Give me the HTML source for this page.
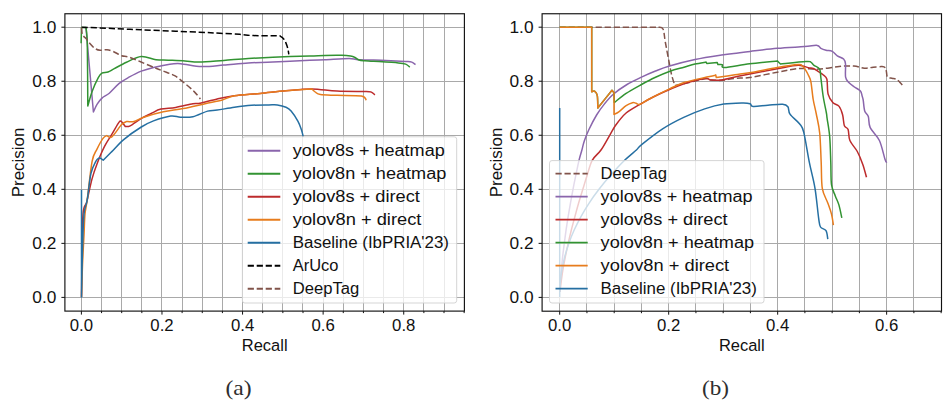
<!DOCTYPE html>
<html><head><meta charset="utf-8"><style>html,body{margin:0;padding:0;background:#fff;overflow:hidden}svg{display:block}</style></head><body>
<svg width="950" height="407" viewBox="0 0 950 407">
<rect width="950" height="407" fill="#ffffff"/>
<g stroke="#a9a9a9" stroke-width="1.0" fill="none"><line x1="81.50" y1="13.75" x2="81.50" y2="311.1" /><line x1="101.50" y1="13.75" x2="101.50" y2="311.1" /><line x1="121.50" y1="13.75" x2="121.50" y2="311.1" /><line x1="141.50" y1="13.75" x2="141.50" y2="311.1" /><line x1="161.50" y1="13.75" x2="161.50" y2="311.1" /><line x1="182.50" y1="13.75" x2="182.50" y2="311.1" /><line x1="202.50" y1="13.75" x2="202.50" y2="311.1" /><line x1="222.50" y1="13.75" x2="222.50" y2="311.1" /><line x1="242.50" y1="13.75" x2="242.50" y2="311.1" /><line x1="262.50" y1="13.75" x2="262.50" y2="311.1" /><line x1="282.50" y1="13.75" x2="282.50" y2="311.1" /><line x1="302.50" y1="13.75" x2="302.50" y2="311.1" /><line x1="323.50" y1="13.75" x2="323.50" y2="311.1" /><line x1="343.50" y1="13.75" x2="343.50" y2="311.1" /><line x1="363.50" y1="13.75" x2="363.50" y2="311.1" /><line x1="383.50" y1="13.75" x2="383.50" y2="311.1" /><line x1="403.50" y1="13.75" x2="403.50" y2="311.1" /><line x1="423.50" y1="13.75" x2="423.50" y2="311.1" /><line x1="444.50" y1="13.75" x2="444.50" y2="311.1" /><line x1="64.9" y1="297.50" x2="464.4" y2="297.50" /><line x1="64.9" y1="243.50" x2="464.4" y2="243.50" /><line x1="64.9" y1="189.50" x2="464.4" y2="189.50" /><line x1="64.9" y1="135.50" x2="464.4" y2="135.50" /><line x1="64.9" y1="81.50" x2="464.4" y2="81.50" /><line x1="64.9" y1="27.50" x2="464.4" y2="27.50" /></g>
<g>
<path d="M86.00,28.00 C87.23,42.00 92.17,98.00 93.40,112.00 C94.00,110.72 95.57,106.62 97.00,104.30 C98.43,101.98 99.95,99.95 102.00,98.10 C104.05,96.25 106.43,95.65 109.30,93.20 C112.17,90.75 115.92,86.07 119.20,83.40 C122.48,80.73 125.32,79.25 129.00,77.20 C132.68,75.15 137.20,72.73 141.30,71.10 C145.40,69.47 149.08,68.52 153.60,67.40 C158.12,66.28 163.90,65.02 168.40,64.40 C172.90,63.78 175.07,63.33 180.60,63.70 C186.13,64.07 194.42,66.37 201.60,66.60 C208.78,66.83 215.92,65.72 223.70,65.10 C231.48,64.48 240.10,63.40 248.30,62.90 C256.50,62.40 262.67,62.55 272.90,62.10 C283.13,61.65 301.08,60.60 309.70,60.20 C318.32,59.80 318.03,59.98 324.60,59.70 C331.17,59.42 343.37,58.50 349.10,58.50 C354.83,58.50 352.85,59.38 359.00,59.70 C365.15,60.02 378.22,60.12 386.00,60.40 C393.78,60.68 401.40,61.12 405.70,61.40 C410.00,61.68 410.17,61.57 411.80,62.10 C413.43,62.63 414.88,64.18 415.50,64.60" fill="none" stroke="#8a65ac" stroke-width="1.5" stroke-linejoin="round" stroke-linecap="butt"/>
<path d="M81.10,43.30 C81.17,40.67 81.43,30.13 81.50,27.50 C82.25,27.48 85.25,27.42 86.00,27.40 C86.22,30.27 87.00,31.50 87.30,44.60 C87.60,57.70 87.72,95.77 87.80,106.00 C88.53,103.55 90.45,96.02 92.20,91.30 C93.95,86.58 96.68,80.72 98.30,77.70 C99.92,74.68 100.28,74.15 101.90,73.20 C103.52,72.25 105.93,72.77 108.00,72.00 C110.07,71.23 111.22,70.23 114.30,68.60 C117.38,66.97 122.02,64.22 126.50,62.20 C130.98,60.18 136.28,56.92 141.20,56.50 C146.12,56.08 151.48,59.08 156.00,59.70 C160.52,60.32 163.47,59.98 168.30,60.20 C173.13,60.42 179.87,60.68 185.00,61.00 C190.13,61.32 192.65,62.20 199.10,62.10 C205.55,62.00 215.50,61.00 223.70,60.40 C231.90,59.80 240.10,59.03 248.30,58.50 C256.50,57.97 262.67,57.62 272.90,57.20 C283.13,56.78 301.08,56.30 309.70,56.00 C318.32,55.70 319.25,55.52 324.60,55.40 C329.95,55.28 337.48,55.18 341.80,55.30 C346.12,55.42 348.30,55.73 350.50,56.10 C352.70,56.47 353.58,56.85 355.00,57.50 C356.42,58.15 357.33,59.45 359.00,60.00 C360.67,60.55 362.55,60.58 365.00,60.80 C367.45,61.02 368.15,60.95 373.70,61.30 C379.25,61.65 392.97,62.43 398.30,62.90 C403.63,63.37 403.78,63.40 405.70,64.10 C407.62,64.80 409.12,66.60 409.80,67.10" fill="none" stroke="#329332" stroke-width="1.5" stroke-linejoin="round" stroke-linecap="butt"/>
<path d="M81.50,297.00 C81.58,290.83 81.75,273.83 82.00,260.00 C82.25,246.17 82.30,223.42 83.00,214.00 C83.70,204.58 85.50,205.83 86.20,203.50 C86.90,201.17 86.22,204.15 87.20,200.00 C88.18,195.85 90.47,184.62 92.10,178.60 C93.73,172.58 94.95,169.22 97.00,163.90 C99.05,158.58 101.93,151.62 104.40,146.70 C106.87,141.78 109.35,138.50 111.80,134.40 C114.25,130.30 117.47,124.23 119.10,122.10 C120.73,119.97 121.18,121.68 121.60,121.60 C122.22,122.42 124.68,125.68 125.30,126.50 C126.12,126.38 127.53,127.15 130.20,125.80 C132.87,124.45 137.82,120.45 141.30,118.40 C144.78,116.35 147.83,115.05 151.10,113.50 C154.37,111.95 156.80,110.12 160.90,109.10 C165.00,108.08 170.37,108.30 175.70,107.40 C181.03,106.50 188.85,104.40 192.90,103.70 C196.95,103.00 195.95,104.00 200.00,103.20 C204.05,102.40 211.47,100.13 217.20,98.90 C222.93,97.67 227.23,96.72 234.40,95.80 C241.57,94.88 251.60,94.25 260.20,93.40 C268.80,92.55 277.40,91.45 286.00,90.70 C294.60,89.95 303.32,88.83 311.80,88.90 C320.28,88.97 327.82,90.65 336.90,91.10 C345.98,91.55 360.57,91.43 366.30,91.60 C372.03,91.77 369.87,91.57 371.30,92.10 C372.73,92.63 374.30,94.35 374.90,94.80" fill="none" stroke="#bd2b2c" stroke-width="1.5" stroke-linejoin="round" stroke-linecap="butt"/>
<path d="M81.50,297.00 C81.67,291.67 82.08,275.33 82.50,265.00 C82.92,254.67 83.58,243.50 84.00,235.00 C84.42,226.50 84.47,219.83 85.00,214.00 C85.53,208.17 86.02,208.77 87.20,200.00 C88.38,191.23 90.47,169.88 92.10,161.40 C93.73,152.92 95.15,152.98 97.00,149.10 C98.85,145.22 101.55,140.35 103.20,138.10 C104.85,135.85 106.28,136.02 106.90,135.60 C107.72,135.82 109.35,138.73 111.80,136.90 C114.25,135.07 119.15,127.15 121.60,124.60 C124.05,122.05 124.45,122.10 126.50,121.60 C128.55,121.10 131.03,122.33 133.90,121.60 C136.77,120.87 138.78,118.83 143.70,117.20 C148.62,115.57 156.85,113.23 163.40,111.80 C169.95,110.37 176.05,109.95 183.00,108.60 C189.95,107.25 198.55,105.13 205.10,103.70 C211.65,102.27 217.42,101.32 222.30,100.00 C227.18,98.68 228.08,96.90 234.40,95.80 C240.72,94.70 251.60,94.25 260.20,93.40 C268.80,92.55 277.40,91.45 286.00,90.70 C294.60,89.95 307.50,89.20 311.80,88.90 C312.37,89.42 313.77,91.05 315.20,92.00 C316.63,92.95 316.78,94.05 320.40,94.60 C324.02,95.15 330.07,95.07 336.90,95.30 C343.73,95.53 356.50,95.18 361.40,96.00 C366.30,96.82 365.48,99.50 366.30,100.20" fill="none" stroke="#e77c1d" stroke-width="1.5" stroke-linejoin="round" stroke-linecap="butt"/>
<path d="M81.50,189.70 C81.50,207.58 81.50,279.12 81.50,297.00 C81.67,289.17 82.08,263.83 82.50,250.00 C82.92,236.17 83.22,222.33 84.00,214.00 C84.78,205.67 86.05,206.72 87.20,200.00 C88.35,193.28 89.47,180.13 90.90,173.70 C92.33,167.27 94.37,164.07 95.80,161.40 C97.23,158.73 98.88,158.32 99.50,157.70 C100.12,158.12 102.58,159.78 103.20,160.20 C104.63,158.77 108.33,155.08 111.80,151.60 C115.27,148.12 119.08,143.40 124.00,139.30 C128.92,135.20 136.38,130.07 141.30,127.00 C146.22,123.93 148.60,122.73 153.50,120.90 C158.40,119.07 166.18,116.62 170.70,116.00 C175.22,115.38 176.90,117.08 180.60,117.20 C184.30,117.32 188.40,117.72 192.90,116.70 C197.40,115.68 203.55,112.20 207.60,111.10 C211.65,110.00 212.73,110.75 217.20,110.10 C221.67,109.45 228.67,108.00 234.40,107.20 C240.13,106.40 245.87,105.68 251.60,105.30 C257.33,104.92 264.50,104.97 268.80,104.90 C273.10,104.83 274.53,104.52 277.40,104.90 C280.27,105.28 283.72,106.18 286.00,107.20 C288.28,108.22 289.10,108.65 291.10,111.00 C293.10,113.35 296.27,118.15 298.00,121.30 C299.73,124.45 300.63,127.33 301.50,129.90 C302.37,132.47 302.92,135.57 303.20,136.70" fill="none" stroke="#256fa2" stroke-width="1.5" stroke-linejoin="round" stroke-linecap="butt"/>
<path d="M81.70,27.20 C89.75,27.55 118.20,28.78 130.00,29.30 C141.80,29.82 141.00,29.82 152.50,30.30 C164.00,30.78 187.75,31.70 199.00,32.20 C210.25,32.70 213.22,32.95 220.00,33.30 C226.78,33.65 234.13,33.92 239.70,34.30 C245.27,34.68 247.18,35.37 253.40,35.60 C259.62,35.83 272.42,35.52 277.00,35.70 C281.58,35.88 279.75,36.12 280.90,36.70 C282.05,37.28 283.08,38.22 283.90,39.20 C284.72,40.18 285.15,41.05 285.80,42.60 C286.45,44.15 287.30,46.53 287.80,48.50 C288.30,50.47 288.63,53.42 288.80,54.40" fill="none" stroke="#000000" stroke-width="1.5" stroke-linejoin="round" stroke-linecap="butt" stroke-dasharray="6.2,2.8"/>
<path d="M81.50,27.50 C81.65,28.70 81.65,32.88 82.40,34.70 C83.15,36.52 84.78,36.97 86.00,38.40 C87.22,39.83 88.25,41.65 89.70,43.30 C91.15,44.95 92.98,47.13 94.70,48.30 C96.42,49.47 97.95,50.07 100.00,50.30 C102.05,50.53 104.83,49.52 107.00,49.70 C109.17,49.88 110.55,50.40 113.00,51.40 C115.45,52.40 118.87,54.68 121.70,55.70 C124.53,56.72 125.28,55.82 130.00,57.50 C134.72,59.18 144.62,63.60 150.00,65.80 C155.38,68.00 158.20,69.05 162.30,70.70 C166.40,72.35 170.92,73.65 174.60,75.70 C178.28,77.75 181.13,80.35 184.40,83.00 C187.67,85.65 191.53,88.93 194.20,91.60 C196.87,94.27 199.37,97.77 200.40,99.00" fill="none" stroke="#81534a" stroke-width="1.5" stroke-linejoin="round" stroke-linecap="butt" stroke-dasharray="6.2,2.8"/>
</g>
<rect x="242.4" y="136.8" width="214.30" height="166.20" rx="2.5" fill="#ffffff" fill-opacity="0.76" stroke="#d0d0d0" stroke-width="0.9"/>
<line x1="247.7" y1="150.70" x2="280.3" y2="150.70" stroke="#8a65ac" stroke-width="1.85"/>
<g fill="#111" font-family='"Liberation Sans", sans-serif'><text x="292.8" y="155.90" font-size="16.0" text-anchor="start" textLength="151.9" lengthAdjust="spacingAndGlyphs">yolov8s + heatmap</text></g>
<line x1="247.7" y1="173.70" x2="280.3" y2="173.70" stroke="#329332" stroke-width="1.85"/>
<g fill="#111" font-family='"Liberation Sans", sans-serif'><text x="292.8" y="178.90" font-size="16.0" text-anchor="start" textLength="153.5" lengthAdjust="spacingAndGlyphs">yolov8n + heatmap</text></g>
<line x1="247.7" y1="196.70" x2="280.3" y2="196.70" stroke="#bd2b2c" stroke-width="1.85"/>
<g fill="#111" font-family='"Liberation Sans", sans-serif'><text x="292.8" y="201.90" font-size="16.0" text-anchor="start" textLength="127.0" lengthAdjust="spacingAndGlyphs">yolov8s + direct</text></g>
<line x1="247.7" y1="219.70" x2="280.3" y2="219.70" stroke="#e77c1d" stroke-width="1.85"/>
<g fill="#111" font-family='"Liberation Sans", sans-serif'><text x="292.8" y="224.90" font-size="16.0" text-anchor="start" textLength="128.6" lengthAdjust="spacingAndGlyphs">yolov8n + direct</text></g>
<line x1="247.7" y1="242.70" x2="280.3" y2="242.70" stroke="#256fa2" stroke-width="1.85"/>
<g fill="#111" font-family='"Liberation Sans", sans-serif'><text x="292.8" y="247.90" font-size="16.0" text-anchor="start" textLength="156.2" lengthAdjust="spacingAndGlyphs">Baseline (IbPRIA&#39;23)</text></g>
<line x1="247.7" y1="265.70" x2="280.3" y2="265.70" stroke="#000000" stroke-width="1.85" stroke-dasharray="6.2,2.8"/>
<g fill="#111" font-family='"Liberation Sans", sans-serif'><text x="292.8" y="270.90" font-size="16.0" text-anchor="start" textLength="45.7" lengthAdjust="spacingAndGlyphs">ArUco</text></g>
<line x1="247.7" y1="288.70" x2="280.3" y2="288.70" stroke="#81534a" stroke-width="1.85" stroke-dasharray="6.2,2.8"/>
<g fill="#111" font-family='"Liberation Sans", sans-serif'><text x="292.8" y="293.90" font-size="16.0" text-anchor="start" textLength="66.4" lengthAdjust="spacingAndGlyphs">DeepTag</text></g>
<rect x="64.9" y="13.75" width="399.50" height="297.35" fill="none" stroke="#111111" stroke-width="1.15"/><line x1="81.40" y1="311.1" x2="81.40" y2="314.6" stroke="#111111" stroke-width="1"/><line x1="101.55" y1="311.1" x2="101.55" y2="313.1" stroke="#111111" stroke-width="1"/><line x1="121.69" y1="311.1" x2="121.69" y2="313.1" stroke="#111111" stroke-width="1"/><line x1="141.84" y1="311.1" x2="141.84" y2="313.1" stroke="#111111" stroke-width="1"/><line x1="161.98" y1="311.1" x2="161.98" y2="314.6" stroke="#111111" stroke-width="1"/><line x1="182.12" y1="311.1" x2="182.12" y2="313.1" stroke="#111111" stroke-width="1"/><line x1="202.27" y1="311.1" x2="202.27" y2="313.1" stroke="#111111" stroke-width="1"/><line x1="222.42" y1="311.1" x2="222.42" y2="313.1" stroke="#111111" stroke-width="1"/><line x1="242.56" y1="311.1" x2="242.56" y2="314.6" stroke="#111111" stroke-width="1"/><line x1="262.71" y1="311.1" x2="262.71" y2="313.1" stroke="#111111" stroke-width="1"/><line x1="282.85" y1="311.1" x2="282.85" y2="313.1" stroke="#111111" stroke-width="1"/><line x1="303.00" y1="311.1" x2="303.00" y2="313.1" stroke="#111111" stroke-width="1"/><line x1="323.14" y1="311.1" x2="323.14" y2="314.6" stroke="#111111" stroke-width="1"/><line x1="343.28" y1="311.1" x2="343.28" y2="313.1" stroke="#111111" stroke-width="1"/><line x1="363.43" y1="311.1" x2="363.43" y2="313.1" stroke="#111111" stroke-width="1"/><line x1="383.57" y1="311.1" x2="383.57" y2="313.1" stroke="#111111" stroke-width="1"/><line x1="403.72" y1="311.1" x2="403.72" y2="314.6" stroke="#111111" stroke-width="1"/><line x1="423.87" y1="311.1" x2="423.87" y2="313.1" stroke="#111111" stroke-width="1"/><line x1="444.01" y1="311.1" x2="444.01" y2="313.1" stroke="#111111" stroke-width="1"/><line x1="464.15" y1="311.1" x2="464.15" y2="313.1" stroke="#111111" stroke-width="1"/><line x1="61.400000000000006" y1="297.40" x2="64.9" y2="297.40" stroke="#111111" stroke-width="1"/><line x1="61.400000000000006" y1="243.36" x2="64.9" y2="243.36" stroke="#111111" stroke-width="1"/><line x1="61.400000000000006" y1="189.32" x2="64.9" y2="189.32" stroke="#111111" stroke-width="1"/><line x1="61.400000000000006" y1="135.28" x2="64.9" y2="135.28" stroke="#111111" stroke-width="1"/><line x1="61.400000000000006" y1="81.24" x2="64.9" y2="81.24" stroke="#111111" stroke-width="1"/><line x1="61.400000000000006" y1="27.20" x2="64.9" y2="27.20" stroke="#111111" stroke-width="1"/>
<g fill="#111" font-family='"Liberation Sans", sans-serif'><text x="81.40" y="330.9" font-size="16.0" text-anchor="middle" textLength="23.3" lengthAdjust="spacingAndGlyphs">0.0</text><text x="161.98" y="330.9" font-size="16.0" text-anchor="middle" textLength="23.3" lengthAdjust="spacingAndGlyphs">0.2</text><text x="242.56" y="330.9" font-size="16.0" text-anchor="middle" textLength="23.3" lengthAdjust="spacingAndGlyphs">0.4</text><text x="323.14" y="330.9" font-size="16.0" text-anchor="middle" textLength="23.3" lengthAdjust="spacingAndGlyphs">0.6</text><text x="403.72" y="330.9" font-size="16.0" text-anchor="middle" textLength="23.3" lengthAdjust="spacingAndGlyphs">0.8</text><text x="56.30" y="303.00" font-size="16.0" text-anchor="end" textLength="24.0" lengthAdjust="spacingAndGlyphs">0.0</text><text x="56.30" y="248.96" font-size="16.0" text-anchor="end" textLength="24.0" lengthAdjust="spacingAndGlyphs">0.2</text><text x="56.30" y="194.92" font-size="16.0" text-anchor="end" textLength="24.0" lengthAdjust="spacingAndGlyphs">0.4</text><text x="56.30" y="140.88" font-size="16.0" text-anchor="end" textLength="24.0" lengthAdjust="spacingAndGlyphs">0.6</text><text x="56.30" y="86.84" font-size="16.0" text-anchor="end" textLength="24.0" lengthAdjust="spacingAndGlyphs">0.8</text><text x="56.30" y="32.80" font-size="16.0" text-anchor="end" textLength="24.0" lengthAdjust="spacingAndGlyphs">1.0</text><text x="264.65" y="351.0" font-size="16.3" text-anchor="middle" textLength="45.8" lengthAdjust="spacingAndGlyphs">Recall</text></g>
<g fill="#111" font-family='"Liberation Sans", sans-serif' transform="translate(24.30,162.43) rotate(-90)"><text x="0" y="0" font-size="16.3" text-anchor="middle" textLength="69.6" lengthAdjust="spacingAndGlyphs">Precision</text></g>
<g stroke="#a9a9a9" stroke-width="1.0" fill="none"><line x1="559.50" y1="13.75" x2="559.50" y2="311.2" /><line x1="586.50" y1="13.75" x2="586.50" y2="311.2" /><line x1="614.50" y1="13.75" x2="614.50" y2="311.2" /><line x1="641.50" y1="13.75" x2="641.50" y2="311.2" /><line x1="668.50" y1="13.75" x2="668.50" y2="311.2" /><line x1="695.50" y1="13.75" x2="695.50" y2="311.2" /><line x1="723.50" y1="13.75" x2="723.50" y2="311.2" /><line x1="750.50" y1="13.75" x2="750.50" y2="311.2" /><line x1="777.50" y1="13.75" x2="777.50" y2="311.2" /><line x1="804.50" y1="13.75" x2="804.50" y2="311.2" /><line x1="832.50" y1="13.75" x2="832.50" y2="311.2" /><line x1="859.50" y1="13.75" x2="859.50" y2="311.2" /><line x1="886.50" y1="13.75" x2="886.50" y2="311.2" /><line x1="913.50" y1="13.75" x2="913.50" y2="311.2" /><line x1="542.1" y1="297.50" x2="941.5" y2="297.50" /><line x1="542.1" y1="243.50" x2="941.5" y2="243.50" /><line x1="542.1" y1="189.50" x2="941.5" y2="189.50" /><line x1="542.1" y1="135.50" x2="941.5" y2="135.50" /><line x1="542.1" y1="81.50" x2="941.5" y2="81.50" /><line x1="542.1" y1="27.50" x2="941.5" y2="27.50" /></g>
<path d="M559.70,27.30 C576.08,27.30 641.62,27.30 658.00,27.30 C658.83,27.58 661.77,26.47 663.00,29.00 C664.23,31.53 664.38,36.98 665.40,42.50 C666.42,48.02 668.08,56.78 669.10,62.10 C670.12,67.42 670.55,70.50 671.50,74.40 C672.45,78.30 674.25,83.65 674.80,85.50 C676.45,85.18 679.67,84.73 684.70,83.60 C689.73,82.47 700.82,79.32 705.00,78.70 C709.18,78.08 707.03,79.63 709.80,79.90 C712.57,80.17 717.40,80.57 721.60,80.30 C725.80,80.03 730.33,78.77 735.00,78.30 C739.67,77.83 742.55,78.52 749.60,77.50 C756.65,76.48 769.00,73.70 777.30,72.20 C785.60,70.70 792.55,69.02 799.40,68.50 C806.25,67.98 811.78,69.43 818.40,69.10 C825.02,68.77 833.18,67.02 839.10,66.50 C845.02,65.98 849.70,65.70 853.90,66.00 C858.10,66.30 861.10,68.10 864.30,68.30 C867.50,68.50 870.15,67.48 873.10,67.20 C876.05,66.92 879.97,66.52 882.00,66.60 C884.03,66.68 884.57,66.87 885.30,67.70 C886.03,68.53 886.03,70.03 886.40,71.60 C886.77,73.17 886.57,76.00 887.50,77.10 C888.43,78.20 890.52,77.83 892.00,78.20 C893.48,78.57 895.12,78.65 896.40,79.30 C897.68,79.95 898.42,80.82 899.70,82.10 C900.98,83.38 903.37,86.18 904.10,87.00" fill="none" stroke="#81534a" stroke-width="1.5" stroke-linejoin="round" stroke-linecap="butt" stroke-dasharray="6.2,2.8"/>
<path d="M559.80,292.00 C559.87,290.65 559.95,287.50 560.20,283.90 C560.45,280.30 560.90,274.90 561.30,270.40 C561.70,265.90 562.10,261.40 562.60,256.90 C563.10,252.40 563.72,247.92 564.30,243.40 C564.88,238.88 565.45,234.32 566.10,229.80 C566.75,225.28 567.47,220.80 568.20,216.30 C568.93,211.80 569.70,207.30 570.50,202.80 C571.30,198.30 572.13,193.80 573.00,189.30 C573.87,184.80 574.70,180.63 575.70,175.80 C576.70,170.97 577.97,164.60 579.00,160.30 C580.03,156.00 581.02,153.22 581.90,150.00 C582.78,146.78 583.17,144.33 584.30,141.00 C585.43,137.67 586.65,134.33 588.70,130.00 C590.75,125.67 593.93,119.40 596.60,115.00 C599.27,110.60 601.87,107.10 604.70,103.60 C607.53,100.10 609.88,97.18 613.60,94.00 C617.32,90.82 622.35,87.32 627.00,84.50 C631.65,81.68 636.75,79.35 641.50,77.10 C646.25,74.85 650.83,72.85 655.50,71.00 C660.17,69.15 662.92,67.92 669.50,66.00 C676.08,64.08 686.32,61.33 695.00,59.50 C703.68,57.67 715.13,55.98 721.60,55.00 C728.07,54.02 729.03,54.20 733.80,53.60 C738.57,53.00 742.95,52.28 750.20,51.40 C757.45,50.52 768.25,49.10 777.30,48.30 C786.35,47.50 797.87,47.08 804.50,46.60 C811.13,46.12 814.37,45.12 817.10,45.40 C819.83,45.68 819.42,47.50 820.90,48.30 C822.38,49.10 824.10,49.68 826.00,50.20 C827.90,50.72 830.42,50.47 832.30,51.40 C834.18,52.33 835.42,54.53 837.30,55.80 C839.18,57.07 842.23,57.67 843.60,59.00 C844.97,60.33 845.17,60.78 845.50,63.80 C845.83,66.82 845.05,73.97 845.60,77.10 C846.15,80.23 847.33,80.95 848.80,82.60 C850.27,84.25 852.47,85.62 854.40,87.00 C856.33,88.38 859.12,89.42 860.40,90.90 C861.68,92.38 861.63,94.38 862.10,95.90 C862.57,97.42 862.77,97.48 863.20,100.00 C863.63,102.52 863.85,108.23 864.70,111.00 C865.55,113.77 867.38,113.83 868.30,116.60 C869.22,119.37 868.35,123.62 870.20,127.60 C872.05,131.58 876.95,135.28 879.40,140.50 C881.85,145.72 883.68,155.22 884.90,158.90 C886.12,162.58 886.40,161.98 886.70,162.60" fill="none" stroke="#8a65ac" stroke-width="1.5" stroke-linejoin="round" stroke-linecap="butt"/>
<path d="M560.00,292.00 C560.15,290.65 560.43,287.50 560.90,283.90 C561.37,280.30 562.07,274.90 562.80,270.40 C563.53,265.90 564.40,261.40 565.30,256.90 C566.20,252.40 567.18,247.92 568.20,243.40 C569.22,238.88 570.27,234.32 571.40,229.80 C572.53,225.28 573.78,220.80 575.00,216.30 C576.22,211.80 577.40,207.30 578.70,202.80 C580.00,198.30 581.42,193.80 582.80,189.30 C584.18,184.80 585.43,180.63 587.00,175.80 C588.57,170.97 589.87,164.60 592.20,160.30 C594.53,156.00 598.08,154.17 601.00,150.00 C603.92,145.83 607.23,139.47 609.70,135.30 C612.17,131.13 613.07,128.72 615.80,125.00 C618.53,121.28 622.07,116.45 626.10,113.00 C630.13,109.55 635.48,106.97 640.00,104.30 C644.52,101.63 648.28,99.47 653.20,97.00 C658.12,94.53 664.25,91.75 669.50,89.50 C674.75,87.25 678.78,85.33 684.70,83.50 C690.62,81.67 700.82,79.12 705.00,78.50 C709.18,77.88 709.00,79.58 709.80,79.80 C711.77,79.83 717.40,80.47 721.60,80.00 C725.80,79.53 730.10,78.03 735.00,77.00 C739.90,75.97 743.95,75.17 751.00,73.80 C758.05,72.43 769.43,70.22 777.30,68.80 C785.17,67.38 793.03,65.47 798.20,65.30 C803.37,65.13 805.78,67.27 808.30,67.80 C810.82,68.33 811.62,67.87 813.30,68.50 C814.98,69.13 816.72,70.52 818.40,71.60 C820.08,72.68 821.98,73.72 823.40,75.00 C824.82,76.28 826.12,76.12 826.90,79.30 C827.68,82.48 827.08,90.20 828.10,94.10 C829.12,98.00 831.17,100.65 833.00,102.70 C834.83,104.75 837.50,104.40 839.10,106.40 C840.70,108.40 841.72,111.47 842.60,114.70 C843.48,117.93 843.48,123.35 844.40,125.80 C845.32,128.25 847.18,126.95 848.10,129.40 C849.02,131.85 848.37,136.82 849.90,140.50 C851.43,144.18 855.15,147.52 857.30,151.50 C859.45,155.48 861.27,160.10 862.80,164.40 C864.33,168.70 865.88,175.15 866.50,177.30" fill="none" stroke="#bd2b2c" stroke-width="1.5" stroke-linejoin="round" stroke-linecap="butt"/>
<path d="M559.70,27.30 C565.03,27.30 586.37,27.30 591.70,27.30 C591.70,38.05 591.70,81.05 591.70,91.80 C592.22,91.72 593.87,90.65 594.80,91.30 C595.73,91.95 596.80,92.92 597.30,95.70 C597.80,98.48 597.72,105.95 597.80,108.00 C600.17,105.05 609.63,93.25 612.00,90.30 C612.33,90.72 613.67,92.38 614.00,92.80 C614.05,94.43 614.25,100.97 614.30,102.60 C616.27,101.07 621.57,96.42 626.10,93.40 C630.63,90.38 636.68,87.15 641.50,84.50 C646.32,81.85 650.25,79.72 655.00,77.50 C659.75,75.28 665.17,72.92 670.00,71.20 C674.83,69.48 679.83,68.38 684.00,67.20 C688.17,66.02 691.32,64.95 695.00,64.10 C698.68,63.25 704.25,62.43 706.10,62.10 C706.22,62.33 706.68,63.27 706.80,63.50 C708.53,63.32 715.47,62.58 717.20,62.40 C717.32,62.77 717.78,64.23 717.90,64.60 C718.63,64.60 721.20,64.12 722.30,64.60 C723.40,65.08 719.95,67.63 724.50,67.50 C729.05,67.37 740.80,64.90 749.60,63.80 C758.40,62.70 772.68,61.38 777.30,60.90 C777.83,61.42 779.97,63.48 780.50,64.00 C784.72,63.58 800.75,61.82 805.80,61.50 C810.85,61.18 809.43,61.47 810.80,62.10 C812.17,62.73 812.53,64.13 814.00,65.30 C815.47,66.47 818.45,66.98 819.60,69.10 C820.75,71.22 820.30,73.43 820.90,78.00 C821.50,82.57 822.28,90.67 823.20,96.50 C824.12,102.33 825.75,109.35 826.40,113.00 C827.05,116.65 826.55,114.43 827.10,118.40 C827.65,122.37 829.08,129.43 829.70,136.80 C830.32,144.17 830.50,154.62 830.80,162.60 C831.10,170.58 830.77,179.18 831.50,184.70 C832.23,190.22 833.97,192.33 835.20,195.70 C836.43,199.07 837.80,201.22 838.90,204.90 C840.00,208.58 841.32,215.65 841.80,217.80" fill="none" stroke="#329332" stroke-width="1.5" stroke-linejoin="round" stroke-linecap="butt"/>
<path d="M559.70,27.30 C565.03,27.30 586.37,27.30 591.70,27.30 C591.70,38.05 591.70,81.05 591.70,91.80 C592.22,91.72 593.87,90.65 594.80,91.30 C595.73,91.95 596.80,92.92 597.30,95.70 C597.80,98.48 597.72,105.95 597.80,108.00 C600.17,105.05 609.63,93.25 612.00,90.30 C612.33,90.72 613.67,92.38 614.00,92.80 C614.00,96.40 614.00,110.80 614.00,114.40 C614.80,113.97 616.78,113.25 618.80,111.80 C620.82,110.35 623.82,107.22 626.10,105.70 C628.38,104.18 630.85,103.12 632.50,102.70 C634.15,102.28 634.75,102.93 636.00,103.20 C637.25,103.47 637.95,104.92 640.00,104.30 C642.05,103.68 643.38,102.07 648.30,99.50 C653.22,96.93 663.43,91.77 669.50,88.90 C675.57,86.03 678.48,84.27 684.70,82.30 C690.92,80.33 701.88,78.22 706.80,77.10 C711.72,75.98 712.72,75.97 714.20,75.60 C715.68,75.23 715.45,75.02 715.70,74.90 C715.80,75.33 716.20,77.07 716.30,77.50 C719.42,77.05 729.22,75.63 735.00,74.80 C740.78,73.97 743.95,73.70 751.00,72.50 C758.05,71.30 769.43,68.92 777.30,67.60 C785.17,66.28 794.08,64.93 798.20,64.60 C802.32,64.27 800.73,64.65 802.00,65.60 C803.27,66.55 804.75,68.73 805.80,70.30 C806.85,71.87 807.45,73.08 808.30,75.00 C809.15,76.92 810.08,77.72 810.90,81.80 C811.72,85.88 812.30,94.13 813.20,99.50 C814.10,104.87 815.22,108.40 816.30,114.00 C817.38,119.60 818.88,125.00 819.70,133.10 C820.52,141.20 820.77,153.40 821.20,162.60 C821.63,171.80 821.20,181.57 822.30,188.30 C823.40,195.03 826.27,198.70 827.80,203.00 C829.33,207.30 830.57,210.42 831.50,214.10 C832.43,217.78 833.08,223.27 833.40,225.10" fill="none" stroke="#e77c1d" stroke-width="1.5" stroke-linejoin="round" stroke-linecap="butt"/>
<polyline points="559.7,108.0 559.7,297.0" fill="none" stroke="#256fa2" stroke-width="1.5" stroke-linejoin="round" stroke-linecap="butt"/>
<path d="M559.80,292.00 C559.87,290.65 559.87,287.50 560.20,283.90 C560.53,280.30 561.05,274.90 561.80,270.40 C562.55,265.90 563.53,261.40 564.70,256.90 C565.87,252.40 567.20,247.92 568.80,243.40 C570.40,238.88 572.25,234.32 574.30,229.80 C576.35,225.28 578.60,220.80 581.10,216.30 C583.60,211.80 586.32,207.30 589.30,202.80 C592.28,198.30 595.53,193.80 599.00,189.30 C602.47,184.80 605.83,180.63 610.10,175.80 C614.37,170.97 620.22,164.60 624.60,160.30 C628.98,156.00 633.57,152.60 636.40,150.00 C639.23,147.40 637.23,148.22 641.60,144.70 C645.97,141.18 655.58,133.45 662.60,128.90 C669.62,124.35 676.68,120.73 683.70,117.40 C690.72,114.07 698.03,111.12 704.70,108.90 C711.37,106.68 717.38,105.08 723.70,104.10 C730.02,103.12 738.22,103.07 742.60,103.00 C746.98,102.93 748.23,103.13 750.00,103.70 C751.77,104.27 750.22,106.15 753.20,106.40 C756.18,106.65 763.00,105.55 767.90,105.20 C772.80,104.85 779.27,104.03 782.60,104.30 C785.93,104.57 786.67,105.15 787.90,106.80 C789.13,108.45 788.07,111.38 790.00,114.20 C791.93,117.02 797.22,120.72 799.50,123.70 C801.78,126.68 802.05,125.62 803.70,132.10 C805.35,138.58 807.52,153.23 809.40,162.60 C811.28,171.97 813.47,179.10 815.00,188.30 C816.53,197.50 817.68,211.35 818.60,217.80 C819.52,224.25 819.27,224.85 820.50,227.00 C821.73,229.15 824.78,228.68 826.00,230.70 C827.22,232.72 827.50,237.70 827.80,239.10" fill="none" stroke="#256fa2" stroke-width="1.5" stroke-linejoin="round" stroke-linecap="butt"/>
<rect x="549.5" y="160.6" width="214.50" height="142.40" rx="2.5" fill="#ffffff" fill-opacity="0.76" stroke="#d0d0d0" stroke-width="0.9"/>
<line x1="555.5" y1="173.60" x2="587.7" y2="173.60" stroke="#81534a" stroke-width="1.85" stroke-dasharray="6.2,2.8"/>
<g fill="#111" font-family='"Liberation Sans", sans-serif'><text x="600.6" y="178.80" font-size="16.0" text-anchor="start" textLength="66.4" lengthAdjust="spacingAndGlyphs">DeepTag</text></g>
<line x1="555.5" y1="196.60" x2="587.7" y2="196.60" stroke="#8a65ac" stroke-width="1.85"/>
<g fill="#111" font-family='"Liberation Sans", sans-serif'><text x="600.6" y="201.80" font-size="16.0" text-anchor="start" textLength="151.9" lengthAdjust="spacingAndGlyphs">yolov8s + heatmap</text></g>
<line x1="555.5" y1="219.60" x2="587.7" y2="219.60" stroke="#bd2b2c" stroke-width="1.85"/>
<g fill="#111" font-family='"Liberation Sans", sans-serif'><text x="600.6" y="224.80" font-size="16.0" text-anchor="start" textLength="127.0" lengthAdjust="spacingAndGlyphs">yolov8s + direct</text></g>
<line x1="555.5" y1="242.60" x2="587.7" y2="242.60" stroke="#329332" stroke-width="1.85"/>
<g fill="#111" font-family='"Liberation Sans", sans-serif'><text x="600.6" y="247.80" font-size="16.0" text-anchor="start" textLength="153.5" lengthAdjust="spacingAndGlyphs">yolov8n + heatmap</text></g>
<line x1="555.5" y1="265.60" x2="587.7" y2="265.60" stroke="#e77c1d" stroke-width="1.85"/>
<g fill="#111" font-family='"Liberation Sans", sans-serif'><text x="600.6" y="270.80" font-size="16.0" text-anchor="start" textLength="128.6" lengthAdjust="spacingAndGlyphs">yolov8n + direct</text></g>
<line x1="555.5" y1="288.60" x2="587.7" y2="288.60" stroke="#256fa2" stroke-width="1.85"/>
<g fill="#111" font-family='"Liberation Sans", sans-serif'><text x="600.6" y="293.80" font-size="16.0" text-anchor="start" textLength="156.2" lengthAdjust="spacingAndGlyphs">Baseline (IbPRIA&#39;23)</text></g>
<rect x="542.1" y="13.75" width="399.40" height="297.45" fill="none" stroke="#111111" stroke-width="1.15"/><line x1="559.70" y1="311.2" x2="559.70" y2="314.7" stroke="#111111" stroke-width="1"/><line x1="586.95" y1="311.2" x2="586.95" y2="313.2" stroke="#111111" stroke-width="1"/><line x1="614.19" y1="311.2" x2="614.19" y2="313.2" stroke="#111111" stroke-width="1"/><line x1="641.44" y1="311.2" x2="641.44" y2="313.2" stroke="#111111" stroke-width="1"/><line x1="668.68" y1="311.2" x2="668.68" y2="314.7" stroke="#111111" stroke-width="1"/><line x1="695.93" y1="311.2" x2="695.93" y2="313.2" stroke="#111111" stroke-width="1"/><line x1="723.17" y1="311.2" x2="723.17" y2="313.2" stroke="#111111" stroke-width="1"/><line x1="750.42" y1="311.2" x2="750.42" y2="313.2" stroke="#111111" stroke-width="1"/><line x1="777.66" y1="311.2" x2="777.66" y2="314.7" stroke="#111111" stroke-width="1"/><line x1="804.90" y1="311.2" x2="804.90" y2="313.2" stroke="#111111" stroke-width="1"/><line x1="832.15" y1="311.2" x2="832.15" y2="313.2" stroke="#111111" stroke-width="1"/><line x1="859.39" y1="311.2" x2="859.39" y2="313.2" stroke="#111111" stroke-width="1"/><line x1="886.64" y1="311.2" x2="886.64" y2="314.7" stroke="#111111" stroke-width="1"/><line x1="913.88" y1="311.2" x2="913.88" y2="313.2" stroke="#111111" stroke-width="1"/><line x1="941.13" y1="311.2" x2="941.13" y2="313.2" stroke="#111111" stroke-width="1"/><line x1="538.6" y1="297.40" x2="542.1" y2="297.40" stroke="#111111" stroke-width="1"/><line x1="538.6" y1="243.36" x2="542.1" y2="243.36" stroke="#111111" stroke-width="1"/><line x1="538.6" y1="189.32" x2="542.1" y2="189.32" stroke="#111111" stroke-width="1"/><line x1="538.6" y1="135.28" x2="542.1" y2="135.28" stroke="#111111" stroke-width="1"/><line x1="538.6" y1="81.24" x2="542.1" y2="81.24" stroke="#111111" stroke-width="1"/><line x1="538.6" y1="27.20" x2="542.1" y2="27.20" stroke="#111111" stroke-width="1"/>
<g fill="#111" font-family='"Liberation Sans", sans-serif'><text x="559.70" y="330.9" font-size="16.0" text-anchor="middle" textLength="23.3" lengthAdjust="spacingAndGlyphs">0.0</text><text x="668.68" y="330.9" font-size="16.0" text-anchor="middle" textLength="23.3" lengthAdjust="spacingAndGlyphs">0.2</text><text x="777.66" y="330.9" font-size="16.0" text-anchor="middle" textLength="23.3" lengthAdjust="spacingAndGlyphs">0.4</text><text x="886.64" y="330.9" font-size="16.0" text-anchor="middle" textLength="23.3" lengthAdjust="spacingAndGlyphs">0.6</text><text x="533.50" y="303.00" font-size="16.0" text-anchor="end" textLength="24.0" lengthAdjust="spacingAndGlyphs">0.0</text><text x="533.50" y="248.96" font-size="16.0" text-anchor="end" textLength="24.0" lengthAdjust="spacingAndGlyphs">0.2</text><text x="533.50" y="194.92" font-size="16.0" text-anchor="end" textLength="24.0" lengthAdjust="spacingAndGlyphs">0.4</text><text x="533.50" y="140.88" font-size="16.0" text-anchor="end" textLength="24.0" lengthAdjust="spacingAndGlyphs">0.6</text><text x="533.50" y="86.84" font-size="16.0" text-anchor="end" textLength="24.0" lengthAdjust="spacingAndGlyphs">0.8</text><text x="533.50" y="32.80" font-size="16.0" text-anchor="end" textLength="24.0" lengthAdjust="spacingAndGlyphs">1.0</text><text x="741.80" y="351.0" font-size="16.3" text-anchor="middle" textLength="45.8" lengthAdjust="spacingAndGlyphs">Recall</text></g>
<g fill="#111" font-family='"Liberation Sans", sans-serif' transform="translate(501.50,162.47) rotate(-90)"><text x="0" y="0" font-size="16.3" text-anchor="middle" textLength="69.6" lengthAdjust="spacingAndGlyphs">Precision</text></g>
<g fill="#2e2e2e" font-family='"Liberation Serif", serif'><text x="238.5" y="394.5" font-size="21.5" text-anchor="middle" textLength="26.2" lengthAdjust="spacingAndGlyphs">(a)</text><text x="715.5" y="394.5" font-size="21.5" text-anchor="middle" textLength="27.0" lengthAdjust="spacingAndGlyphs">(b)</text></g>
</svg>
</body></html>
